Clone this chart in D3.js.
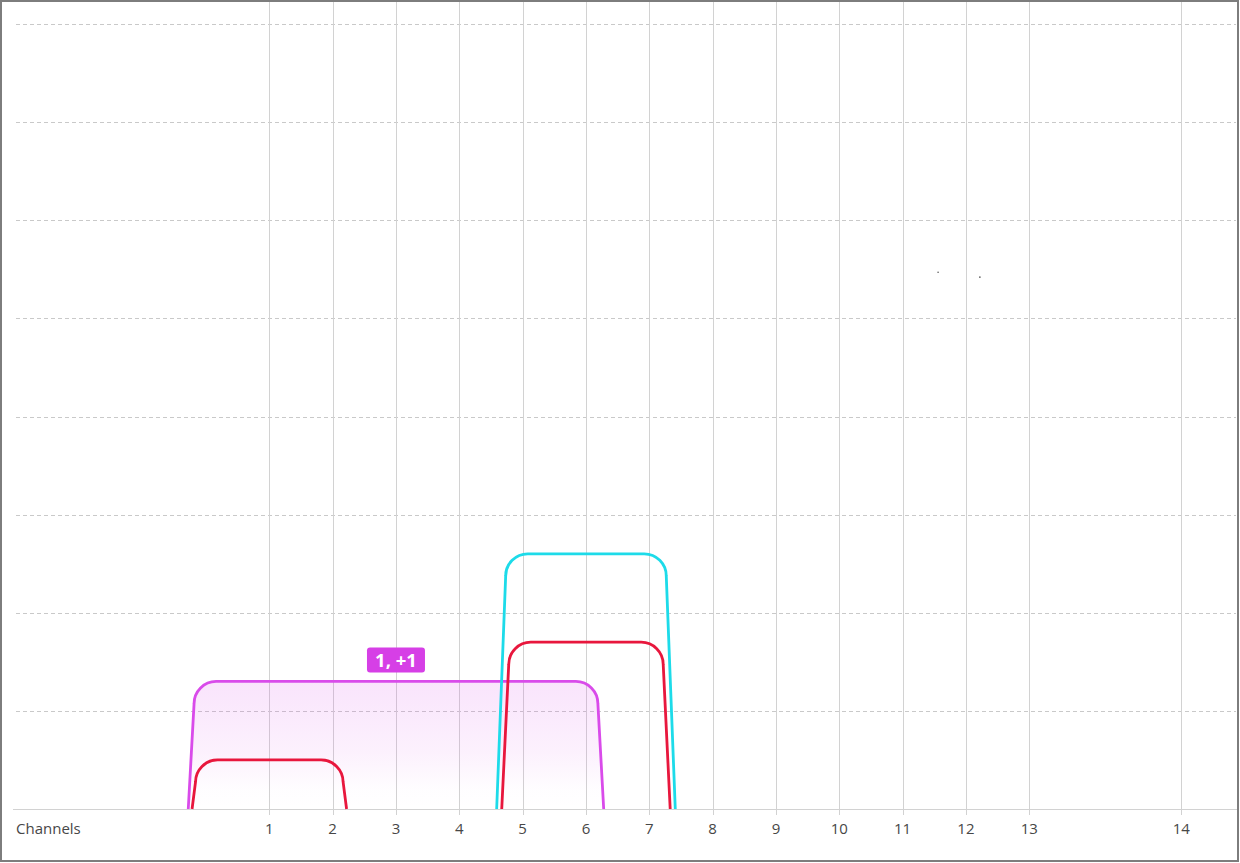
<!DOCTYPE html>
<html>
<head>
<meta charset="utf-8">
<script src="https://cdn.jsdelivr.net/npm/d3@7"></script>
<style>
	body { margin: 0; background: #fff; }
	svg { display: block; font-family: "Open Sans", "Noto Sans", sans-serif; }
</style>
</head>
<body>
<svg id="chart" width="1240" height="863"></svg>
<script>
// channel numbers on the axis
var channels = [1, 2, 3, 4, 5, 6, 7, 8, 9, 10, 11, 12, 13, 14];

// networks: centre channel, drawn width (MHz), signal (dBm)
var netCentres = [3, 1, 6, 6];
var netWidths = [32.8, 12.2, 14.1, 13.3];
var netSignals = [-87, -95, -74, -83];
var netColors = ['#d94bea', '#e8173d', '#1ddbe9', '#e8173d'];
var netLabels = ['1, +1', null, null, null];

// two stray specks in the picture (MHz, dBm)
var speckFreqs = [2464.8, 2468.1];
var speckSignals = [-45.3, -45.8];

var W = 1240, H = 863;
var plotLeft = 16, plotRight = 1237, plotTop = 24, base = 809;

function chanFreq(c) {
	return c == 14 ? 2484 : 2407 + 5 * c;
}

var svg = d3.select('#chart');

var x = d3.scaleLinear().domain([2392, 2488.4]).range([plotLeft, plotRight]);
var y = d3.scaleLinear().domain([-100, -20]).range([base, plotTop]);

//Outer frame
svg.append('rect')
	.attr('x', 1).attr('y', 1)
	.attr('width', W - 3).attr('height', H - 3)
	.attr('fill', '#fff')
	.attr('stroke', '#7d7d7d')
	.attr('stroke-width', 2);

//Horizontal dashed grid
var yTicks = d3.range(-90, -19, 10);
svg.append('g').selectAll('line')
	.data(yTicks)
	.enter().append('line')
	.attr('x1', plotLeft).attr('x2', plotRight - 1)
	.attr('y1', d => Math.round(y(d)) + 0.5)
	.attr('y2', d => Math.round(y(d)) + 0.5)
	.attr('stroke', '#c9c9c9')
	.attr('stroke-dasharray', '4,3');

//Vertical channel lines
svg.append('g').selectAll('line')
	.data(channels)
	.enter().append('line')
	.attr('x1', d => Math.round(x(chanFreq(d))) + 0.5)
	.attr('x2', d => Math.round(x(chanFreq(d))) + 0.5)
	.attr('y1', 2).attr('y2', base + 6)
	.attr('stroke', '#d2d2d2');

//Baseline
svg.append('line')
	.attr('x1', plotLeft - 3).attr('x2', plotRight)
	.attr('y1', base + 0.5).attr('y2', base + 0.5)
	.attr('stroke', '#d2d2d2');

//Axis labels
svg.append('g').selectAll('text')
	.data(channels)
	.enter().append('text')
	.attr('x', d => x(chanFreq(d)))
	.attr('y', base + 25)
	.attr('text-anchor', 'middle')
	.attr('font-size', 15)
	.attr('fill', '#474747')
	.text(d => d);

svg.append('text')
	.attr('x', plotLeft)
	.attr('y', base + 25)
	.attr('font-size', 15)
	.attr('fill', '#474747')
	.text('Channels');

//Gradient for the highlighted network
var defs = svg.append('defs');
var grad = defs.append('linearGradient')
	.attr('id', 'hlfill')
	.attr('x1', 0).attr('y1', 0).attr('x2', 0).attr('y2', 1);
grad.append('stop').attr('offset', '0%').attr('stop-color', netColors[0]).attr('stop-opacity', 0.15);
grad.append('stop').attr('offset', '55%').attr('stop-color', netColors[0]).attr('stop-opacity', 0.08);
grad.append('stop').attr('offset', '85%').attr('stop-color', netColors[0]).attr('stop-opacity', 0.01);
grad.append('stop').attr('offset', '100%').attr('stop-color', netColors[0]).attr('stop-opacity', 0);

//Shape of one network: slanted sides with rounded top corners
function netPath(i) {
	var c = chanFreq(netCentres[i]);
	var xl = x(c - netWidths[i] / 2);
	var xr = x(c + netWidths[i] / 2);
	var yt = y(netSignals[i]);
	var h = base - yt;
	var s = Math.min(9, 2 + h * 0.03); // slant of sides
	var r = Math.min(22, h * 0.45);   // corner size
	var k = r * 0.45;
	var p = d3.path();
	p.moveTo(xl, base);
	p.lineTo(xl + s, yt + r);
	p.bezierCurveTo(xl + s, yt + k, xl + s + k, yt, xl + s + r, yt);
	p.lineTo(xr - s - r, yt);
	p.bezierCurveTo(xr - s - k, yt, xr - s, yt + k, xr - s, yt + r);
	p.lineTo(xr, base);
	return p.toString();
}

var order = [0, 2, 3, 1];
svg.append('path')
	.attr('d', netPath(0) + 'Z')
	.attr('fill', 'url(#hlfill)');

var nets = svg.append('g');
order.forEach(function (i) {
	nets.append('path')
		.attr('d', netPath(i))
		.attr('fill', 'none')
		.attr('stroke', netColors[i])
		.attr('stroke-width', 2.8)
		.attr('stroke-linejoin', 'round');
});

//Labels
netLabels.forEach(function (lab, i) {
	if (!lab) return;
	var cx = x(chanFreq(netCentres[i]));
	var yt = y(netSignals[i]);
	var g = svg.append('g');
	g.append('rect')
		.attr('x', cx - 29)
		.attr('y', yt - 34)
		.attr('width', 58)
		.attr('height', 25)
		.attr('rx', 3)
		.attr('fill', '#d63fe6');
	g.append('text')
		.attr('x', cx)
		.attr('y', yt - 14.5)
		.attr('text-anchor', 'middle')
		.attr('font-size', 18.5)
		.attr('font-weight', 'bold')
		.attr('fill', '#fff')
		.text(lab);
});

//Specks
svg.append('g').selectAll('circle')
	.data(speckFreqs)
	.enter().append('circle')
	.attr('cx', d => x(d))
	.attr('cy', (d, i) => y(speckSignals[i]))
	.attr('r', 0.8)
	.attr('fill', '#555');
</script>
</body>
</html>
